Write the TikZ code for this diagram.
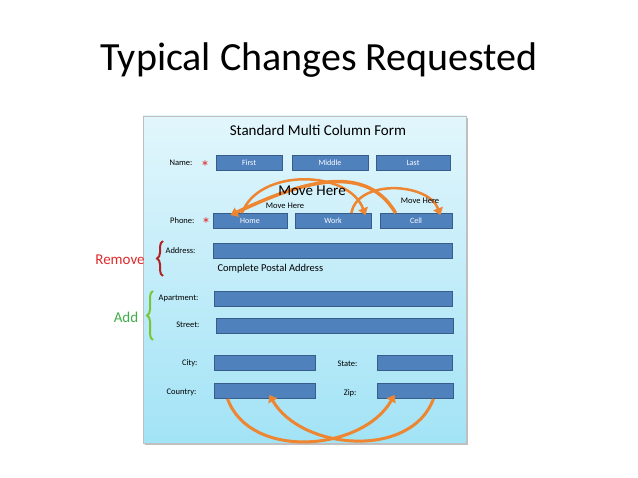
\documentclass[tikz,border=0pt]{standalone}
\usepackage{fontspec}
\setmainfont{Carlito}
\usepackage{tikz}
\usetikzlibrary{arrows.meta,decorations.pathreplacing,shadows}
\definecolor{fieldblue}{HTML}{4F81BD}
\definecolor{fieldedge}{HTML}{385D8A}
\definecolor{moveorange}{HTML}{EE8530}
\definecolor{removered}{HTML}{E02A2A}
\definecolor{addgreen}{HTML}{3FAE49}
\definecolor{paneltop}{HTML}{E2F6FC}
\definecolor{panelbot}{HTML}{A2E3F6}
\tikzset{
  field/.style={draw=fieldedge, fill=fieldblue, line width=0.8pt, text=white, font=\fontsize{8}{9}\selectfont},
  lbl/.style={font=\fontsize{8.5}{10}\selectfont, anchor=east},
  star/.style={text=removered, font=\fontsize{18}{18}\selectfont},
  move/.style={moveorange, line width=3.5pt, -{Triangle[length=7pt,width=10pt]}}
}
\newcommand{\fieldbox}[5]{\node[field, minimum width=#3-#2, minimum height=15, inner sep=0pt] (#1) at ({(#2+#3)/2},#4) {#5};}
\begin{document}
\begin{tikzpicture}[x=1pt,y=-1pt]
  \useasboundingbox (0,0) rectangle (638,478);
  \node[font=\fontsize{40}{44}\selectfont] (title) at (319,60) {Typical Changes Requested};

  % form panel
  \shade[top color=paneltop, bottom color=panelbot, draw=gray!50, drop shadow] (143,116) rectangle (466,443);
  \node[font=\fontsize{15}{17}\selectfont] (formtitle) at (318,130) {Standard Multi Column Form};

  % name row
  \node[lbl] (namel) at (196,163) {Name:};
  \node[star] (namestar) at (205,167) {*};
  \fieldbox{first}{216}{282}{163}{First}
  \fieldbox{middle}{292}{368}{163}{Middle}
  \fieldbox{last}{376}{450}{163}{Last}

  % phone row
  \node[lbl] (phonel) at (198,221) {Phone:};
  \node[star] (phonestar) at (206,224) {*};
  \fieldbox{home}{213}{287}{221}{Home}
  \fieldbox{work}{295}{371}{221}{Work}
  \fieldbox{cell}{380}{452}{221}{Cell}

  % address rows
  \node[lbl] (addrl) at (199,251) {Address:};
  \fieldbox{addr}{213}{452}{251}{}
  \node[anchor=west, font=\fontsize{10.5}{12}\selectfont] (postal) at (214,269) {Complete Postal Address};
  \node[lbl] (aptl) at (202,298) {Apartment:};
  \fieldbox{apt}{214}{452}{299}{}
  \node[lbl] (streetl) at (203,325) {Street:};
  \fieldbox{street}{216}{453}{326}{}
  \node[lbl] (cityl) at (201,363) {City:};
  \fieldbox{city}{214}{315}{363}{}
  \node[lbl] (statel) at (361,364) {State:};
  \fieldbox{state}{377}{452}{363}{}
  \node[lbl] (countryl) at (200,392) {Country:};
  \fieldbox{country}{214}{315}{391}{}
  \node[lbl] (zipl) at (360,393) {Zip:};
  \fieldbox{zip}{377}{453}{391}{}

  % remove / add
  \node[text=removered, font=\fontsize{15}{17}\selectfont] (remove) at (120,260) {Remove};
  \draw[removered!80!black, line width=2pt, decorate, decoration={brace, amplitude=6pt}] (163,276) -- (163,241);
  \node[text=addgreen, font=\fontsize{15}{17}\selectfont] (add) at (126,317) {Add};
  \draw[addgreen!70!yellow, line width=2pt, decorate, decoration={brace, amplitude=6pt}] (153,340) -- (153,291);

  % moves
  \draw[move] ([xshift=16pt]cell.north west) to[out=120, in=25] ([xshift=18pt,yshift=-2pt]home.north west);
  \draw[move, line width=2.5pt] ([xshift=-8pt]home.north) to[out=70, in=110] ([xshift=-6pt,yshift=-2pt]work.north east);
  \draw[move, line width=2.5pt] ([xshift=-20pt]work.north east) to[out=80, in=110] ([xshift=-12pt,yshift=-2pt]cell.north east);
  \node[font=\fontsize{15}{17}\selectfont] (movebig) at (312,191) {Move Here};
  \node[font=\fontsize{8.5}{10}\selectfont] (movesmall1) at (285,206) {Move Here};
  \node[font=\fontsize{8.5}{10}\selectfont] (movesmall2) at (420,201) {Move Here};
  \draw[move, line width=3pt] ([xshift=14pt]country.south west) to[out=-70, in=-120] ([xshift=18pt,yshift=4pt]zip.south west);
  \draw[move, line width=3pt] ([xshift=-20pt]zip.south east) to[out=-110, in=-60] ([xshift=-46pt,yshift=4pt]country.south east);
\end{tikzpicture}
\end{document}
